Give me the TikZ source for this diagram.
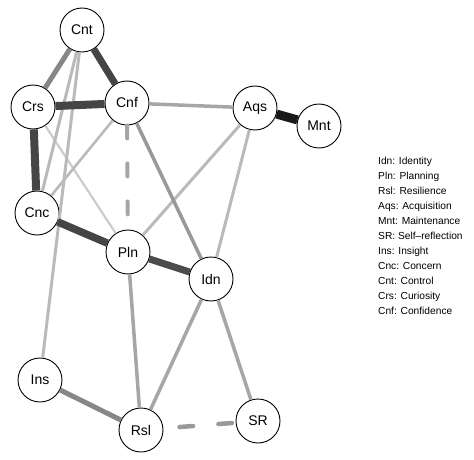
\documentclass[tikz,border=0pt]{standalone}
\usepackage{fontspec}
\setmainfont{Liberation Sans}
\begin{document}
\begin{tikzpicture}[x=1pt,y=-1pt,
  nd/.style={circle,draw,line width=0.9pt,fill=white,minimum size=44pt,inner sep=0pt,font=\fontsize{14}{14}\selectfont},
  dk/.style={draw=black!73,line width=7.5pt},
  blk/.style={draw=black!90,line width=9pt},
  md/.style={draw=black!47,line width=5pt},
  lt/.style={draw=black!35,line width=3.5pt},
  vl/.style={draw=black!27,line width=3pt},
  vvl/.style={draw=black!20,line width=2.2pt},
  dsh/.style={draw=black!35,line width=4pt,line cap=round,dash pattern=on 13pt off 25pt},
  leg/.style={anchor=base west,inner sep=0pt,font=\fontsize{10.2}{12}\selectfont}]
\useasboundingbox (0,0) rectangle (474,460);
\node[nd] (Cnt) at (82,30) {Cnt};
\node[nd] (Crs) at (33,107) {Crs};
\node[nd] (Cnf) at (127,103) {Cnf};
\node[nd] (Aqs) at (255,108) {Aqs};
\node[nd] (Mnt) at (319,126) {Mnt};
\node[nd] (Cnc) at (37,213) {Cnc};
\node[nd] (Pln) at (128,252) {Pln};
\node[nd] (Idn) at (211,279) {Idn};
\node[nd] (Ins) at (40,380) {Ins};
\node[nd] (Rsl) at (141,430) {Rsl};
\node[nd] (SR) at (258,421) {SR};
% edges
\draw[vvl] (Crs) -- (Pln);
\draw[vl] (Cnt) -- (Cnc);
\draw[vl] (Cnt) -- (Ins);
\draw[vl,line width=2.6pt] (Cnf) -- (Cnc);
\draw[vl] (Aqs) -- (Pln);
\draw[vl] (Aqs) -- (Idn);
\draw[lt] (Cnf) -- (Aqs);
\draw[lt,draw=black!40] (Cnf) -- (Idn);
\draw[lt] (Pln) -- (Rsl);
\draw[lt] (Idn) -- (Rsl);
\draw[lt] (Idn) -- (SR);
\draw[dsh] (Cnf) -- (Pln);
\draw[dsh,draw=black!40,dash pattern=on 13.5pt off 25.5pt,dash phase=22.75pt,line width=4.5pt] (Rsl) -- (SR);
\draw[md] (Cnt) -- (Crs);
\draw[md] (Ins) -- (Rsl);
\draw[dk,line width=7pt] (Cnt) -- (Cnf);
\draw[dk,line width=8pt] (Crs) -- (Cnf);
\draw[dk,line width=8pt] (Crs) -- (Cnc);
\draw[dk] (Cnc) -- (Pln);
\draw[dk,draw=black!70,line width=7pt] (Pln) -- (Idn);
\draw[blk] (Aqs) -- (Mnt);
% legend
\foreach \t [count=\i from 0] in {Idn: Identity,Pln: Planning,Rsl: Resilience,Aqs: Acquisition,Mnt: Maintenance,SR: Self–reflection,Ins: Insight,Cnc: Concern,Cnt: Control,Crs: Curiosity,Cnf: Confidence}
  \node[leg] (leg\i) at (378,164+15*\i) {\t};
\end{tikzpicture}
\end{document}
